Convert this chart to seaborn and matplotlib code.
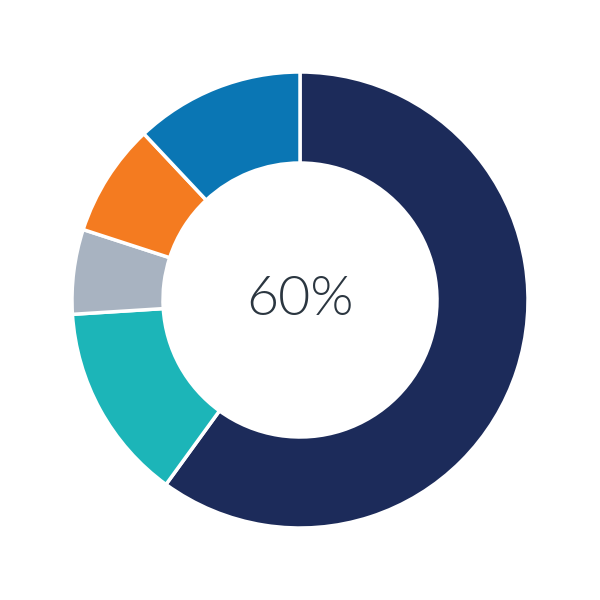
import matplotlib
matplotlib.use("Agg")
import matplotlib.pyplot as plt
import seaborn as sns

categories = ["Navy", "Teal", "Gray", "Orange", "Blue"]
values = [60, 14, 6, 8, 12]
colors = ["#1c2b5a", "#1cb5b8", "#a8b3c1", "#f47b20", "#0a76b4"]
center_label = "60%"

sns.set_theme(style="white")
plt.rcParams['font.family'] = ['Lato', 'DejaVu Sans']

fig = plt.figure(figsize=(6, 6), dpi=100)
ax = fig.add_axes([0, 0, 1, 1])
ax.pie(values, colors=colors, startangle=90, counterclock=False,
       radius=228, center=(0, 0),
       wedgeprops=dict(width=91, edgecolor="white", linewidth=2.5))
ax.set_xlim(-300, 300)
ax.set_ylim(-300, 300)
ax.set_aspect("equal")
ax.axis("off")
ax.text(0, 0, center_label, ha="center", va="center", fontsize=40,
        color="#2b3640", fontweight=300)
fig.savefig("out.png", dpi=100)
